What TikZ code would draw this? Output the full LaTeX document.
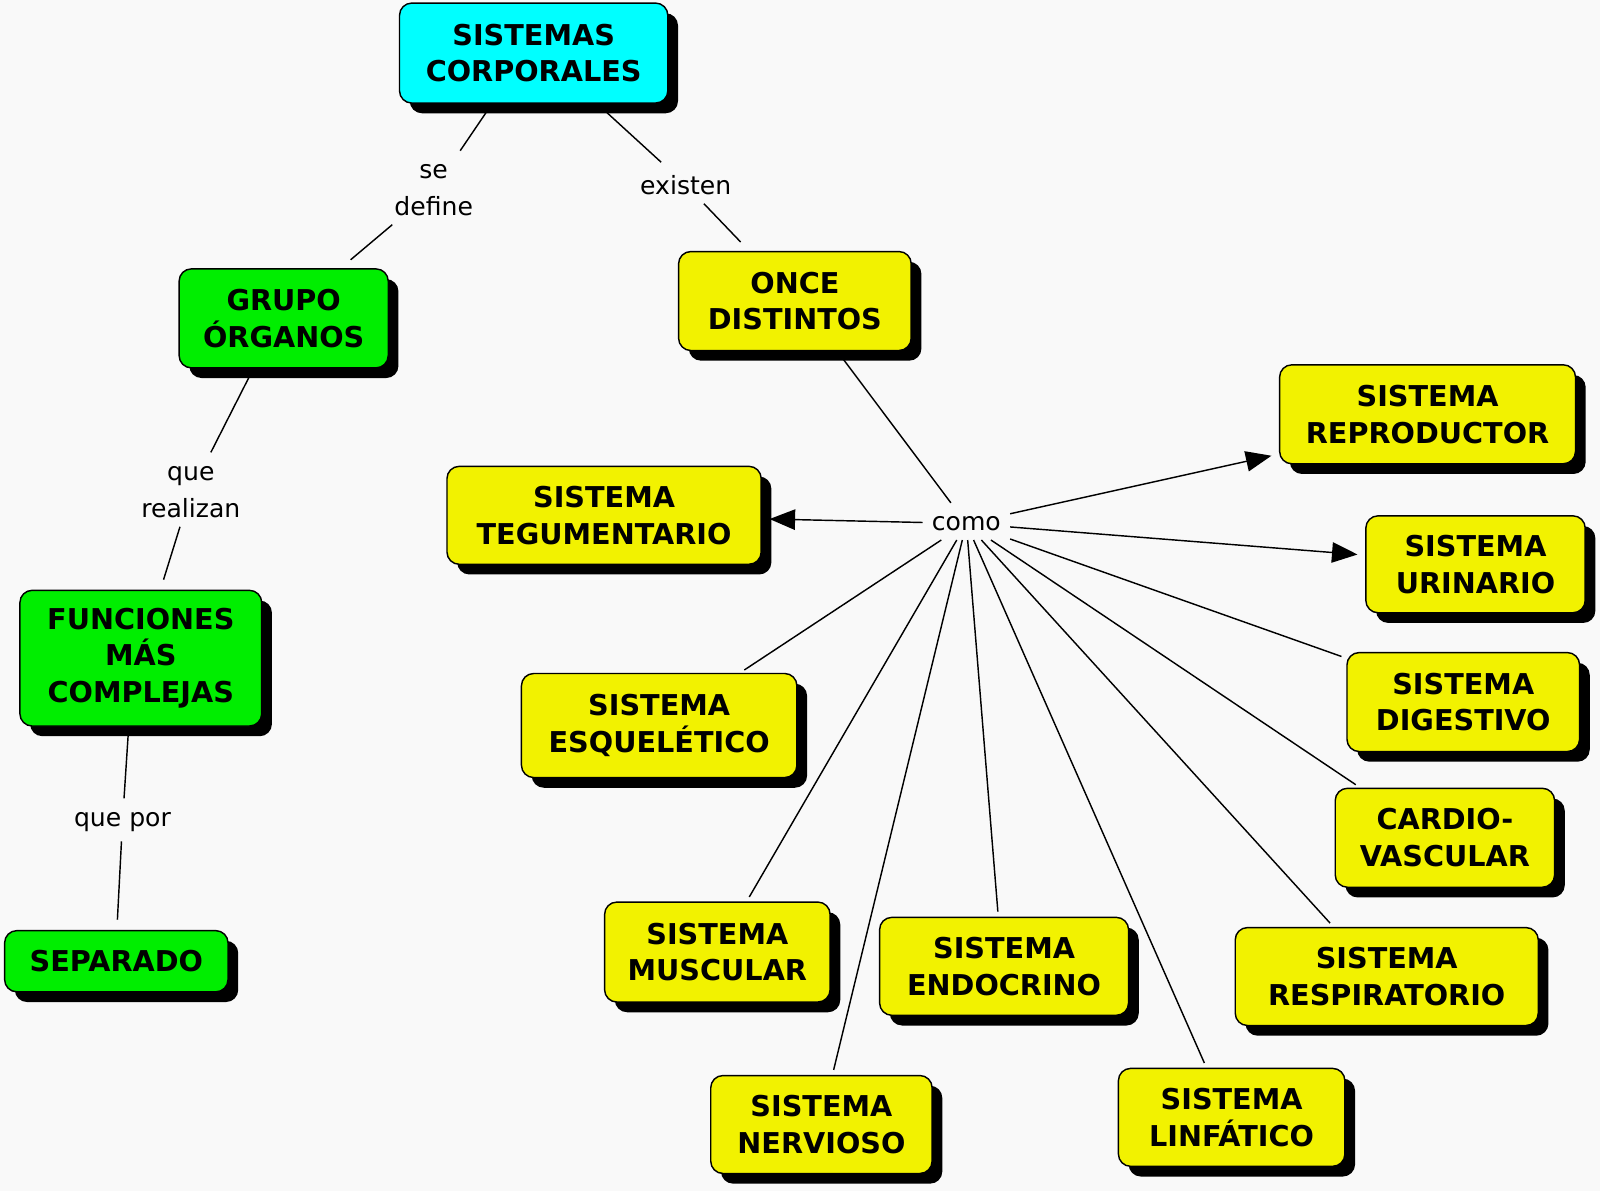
\documentclass[tikz,border=0pt]{standalone}
\usepackage{fontspec}
\setmainfont{DejaVu Sans}
\usetikzlibrary{shadows,arrows.meta}
\definecolor{ycol}{HTML}{F2F200}
\definecolor{gcol}{HTML}{00EE00}
\definecolor{ccol}{HTML}{00FFFF}
\definecolor{bg}{HTML}{F9F9F9}
\tikzset{
 box/.style={draw=black, line width=0.8pt, rounded corners=0.24cm, align=center,
   font=\fontsize{16}{20.5}\selectfont\bfseries, inner sep=2pt,
   drop shadow={shadow xshift=0.2cm, shadow yshift=-0.2cm, fill=black, opacity=1}},
 yb/.style={box, fill=ycol},
 gb/.style={box, fill=gcol},
 cb/.style={box, fill=ccol},
 lab/.style={align=center, font=\fontsize{14}{20.5}\selectfont, inner sep=5pt},
 ln/.style={line width=0.8pt, shorten >=0.1cm},
 ar/.style={line width=0.8pt, -{Triangle[length=0.5cm,width=0.4cm]}, shorten >=0.15cm},
}
\begin{document}
\begin{tikzpicture}[x=0.02cm,y=-0.02cm]
\fill[bg] (0,0) rectangle (1568,1167);
\useasboundingbox (0,0) rectangle (1568,1167);
\node[cb, minimum width=5.26cm, minimum height=1.96cm] (sc) at (523,52) {SISTEMAS\\CORPORALES};
\node[gb, minimum width=4.1cm, minimum height=1.94cm] (go) at (278,312) {GRUPO\\ÓRGANOS};
\node[gb, minimum width=4.74cm, minimum height=2.66cm] (fm) at (138,645) {FUNCIONES\\MÁS\\COMPLEJAS};
\node[gb, minimum width=4.38cm, minimum height=1.2cm] (sep) at (114,942) {SEPARADO};
\node[yb, minimum width=4.56cm, minimum height=1.94cm] (od) at (779,295) {ONCE\\DISTINTOS};
\node[yb, minimum width=5.8cm, minimum height=1.94cm] (rep) at (1399,406) {SISTEMA\\REPRODUCTOR};
\node[yb, minimum width=6.16cm, minimum height=1.92cm] (teg) at (592,505) {SISTEMA\\TEGUMENTARIO};
\node[yb, minimum width=4.3cm, minimum height=1.9cm] (uri) at (1446,553) {SISTEMA\\URINARIO};
\node[yb, minimum width=4.56cm, minimum height=1.94cm] (dig) at (1434,688) {SISTEMA\\DIGESTIVO};
\node[yb, minimum width=5.4cm, minimum height=2.04cm] (esq) at (646,711) {SISTEMA\\ESQUELÉTICO};
\node[yb, minimum width=4.3cm, minimum height=1.94cm] (car) at (1416,821) {CARDIO-\\VASCULAR};
\node[yb, minimum width=4.42cm, minimum height=1.96cm] (mus) at (703,933) {SISTEMA\\MUSCULAR};
\node[yb, minimum width=4.88cm, minimum height=1.92cm] (end) at (984,947) {SISTEMA\\ENDOCRINO};
\node[yb, minimum width=5.94cm, minimum height=1.92cm] (res) at (1359,957) {SISTEMA\\RESPIRATORIO};
\node[yb, minimum width=4.34cm, minimum height=1.92cm] (ner) at (805,1102) {SISTEMA\\NERVIOSO};
\node[yb, minimum width=4.44cm, minimum height=1.92cm] (lin) at (1207,1095) {SISTEMA\\LINFÁTICO};
\node[lab] (como) at (947,513) {como};
\node[lab] (sd) at (425,186) {se\\define};
\node[lab] (ex) at (672,181) {existen};
\node[lab] (qr) at (187,482) {que\\realizan};
\node[lab] (qp) at (120,806) {que por};
\draw[ln] (sc.south west)++(88,0) coordinate (a1);
\draw[ln] ([xshift=1.76cm,yshift=-0.1cm]sc.south west) -- (sd);
\draw[ln] (sd) -- ([xshift=3.3cm,yshift=0.1cm]go.north west);
\draw[ln] ([xshift=4cm,yshift=-0.1cm]sc.south west) -- (ex);
\draw[ln] (ex) -- ([xshift=1.3cm,yshift=0.1cm]od.north west);
\draw[ln] ([xshift=1.42cm,yshift=-0.1cm]go.south west) -- (qr);
\draw[ln] (qr) -- ([xshift=2.8cm,yshift=0.1cm]fm.north west);
\draw[ln] ([xshift=2.14cm,yshift=-0.1cm]fm.south west) -- (qp);
\draw[ln] (qp) -- ([xshift=2.22cm,yshift=0.1cm]sep.north west);
\draw[ln] ([xshift=3.2cm,yshift=-0.1cm]od.south west) -- (como);
\draw[ar] (como) -- (rep.south west |- 0,445) coordinate (r1);
\draw[ar] (como) -- (teg);
\draw[ar] (como) -- (uri.west |- 0,544);
\draw[ln] (como) -- (dig.north west |- 0,645);
\draw[ln] (como) -- ([xshift=0.5cm]car.north west);
\draw[ln] (como) -- ([xshift=4.3cm]esq.north west);
\draw[ln] (como) -- ([xshift=2.8cm]mus.north west);
\draw[ln] (como) -- ([xshift=2.34cm]end.north west);
\draw[ln] (como) -- ([xshift=1.94cm]res.north west);
\draw[ln] (como) -- ([xshift=2.4cm]ner.north west);
\draw[ln] (como) -- ([xshift=1.74cm]lin.north west);
\end{tikzpicture}
\end{document}
